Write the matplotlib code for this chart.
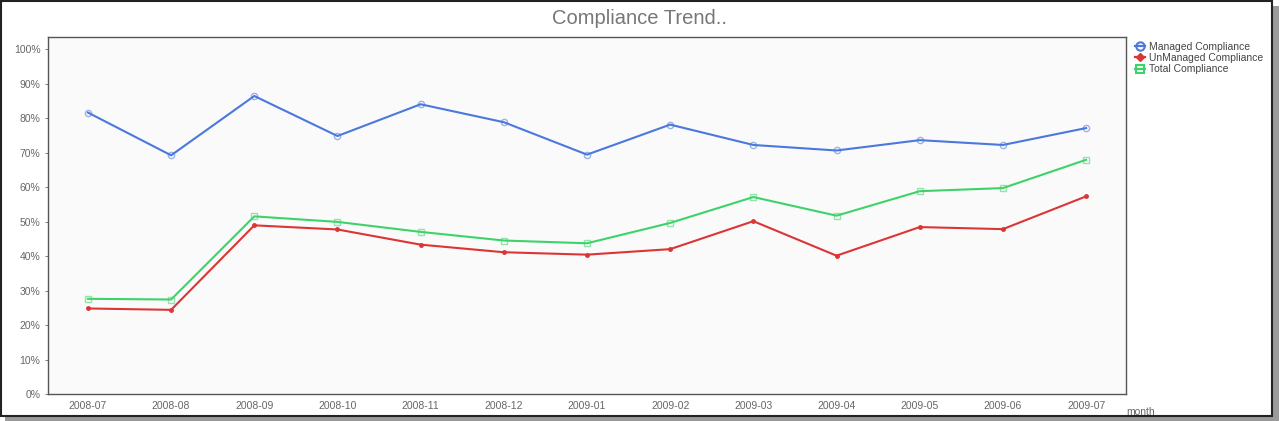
import matplotlib

matplotlib.use("Agg")
import matplotlib.pyplot as plt
from matplotlib.patches import Rectangle
from matplotlib.lines import Line2D
from matplotlib.ticker import FuncFormatter, MultipleLocator

months = ["2008-07", "2008-08", "2008-09", "2008-10", "2008-11", "2008-12", "2009-01",
          "2009-02", "2009-03", "2009-04", "2009-05", "2009-06", "2009-07"]
managed = [81.6, 69.2, 86.4, 74.8, 84.0, 78.8, 69.4, 78.1, 72.2, 70.6, 73.6, 72.2, 77.1]
unmanaged = [24.8, 24.4, 48.9, 47.7, 43.3, 41.1, 40.4, 42.0, 50.1, 40.1, 48.4, 47.8, 57.3]
total = [27.6, 27.4, 51.5, 49.9, 47.0, 44.5, 43.7, 49.6, 57.1, 51.7, 58.8, 59.7, 67.9]

series = [
    ("Managed Compliance", managed, "#4a78dc", "o"),
    ("UnManaged Compliance", unmanaged, "#dc3535", "D"),
    ("Total Compliance", total, "#3ed36a", "s"),
]

plt.rcParams["font.family"] = ["Liberation Sans", "DejaVu Sans"]

fig = plt.figure(figsize=(12.8, 4.21), dpi=100)

# outer frame with drop shadow (kept behind the axes)
fig.patches.append(Rectangle((0.004, 0.0), 0.995, 0.985, transform=fig.transFigure,
                             facecolor="#9a9a9a", edgecolor="none", zorder=-3))
fig.patches.append(Rectangle((0.001, 0.012), 0.993, 0.985, transform=fig.transFigure,
                             facecolor="white", edgecolor="#222222", linewidth=1.5, zorder=-2))

ax = fig.add_axes([0.0375, 0.0641, 0.8422, 0.848])
ax.set_facecolor("#fafafa")
x = list(range(len(months)))
for name, vals, color, mk in series:
    ax.plot(x, vals, color=color, linewidth=1.5, zorder=3)
    if mk == "D":
        ax.plot(x, vals, linestyle="none", marker="o", markersize=2.5,
                color=color, zorder=4)
    else:
        ax.plot(x, vals, linestyle="none", marker=mk, markersize=4.5,
                markerfacecolor="none", markeredgecolor=color, markeredgewidth=1.0,
                alpha=0.55, zorder=4)

ax.set_xlim(-0.48, 12.48)
ax.set_ylim(0, 103.5)
ax.set_xticks(x)
ax.set_xticklabels(months)
ax.yaxis.set_major_locator(MultipleLocator(10))
ax.yaxis.set_major_formatter(FuncFormatter(lambda v, p: f"{v:.0f}%"))
ax.tick_params(axis="both", labelsize=7.5, colors="#666666", length=2, width=0.6)
ax.tick_params(axis="x", length=0, pad=5)
for side in ax.spines.values():
    side.set_color("#555555")
    side.set_linewidth(1.0)

fig.text(0.5, 0.955, "Compliance Trend..", ha="center", va="center",
         fontsize=14.5, color="#777777")
fig.text(0.891, 0.022, "month", ha="center", va="center", fontsize=7.5, color="#666666")

handles = [
    Line2D([], [], color="#4a78dc", marker="o", markersize=6, markerfacecolor="none",
           markeredgewidth=1.5, linewidth=1.6),
    Line2D([], [], color="#dc3535", marker="D", markersize=4, linewidth=1.6),
    Line2D([], [], color="#3ed36a", marker="s", markersize=6, markerfacecolor="none",
           markeredgewidth=1.5, linewidth=1.6),
]
fig.legend(handles, [s[0] for s in series], loc="upper left",
           bbox_to_anchor=(0.885, 0.905), frameon=False, fontsize=7.5,
           handlelength=1.0, handletextpad=0.35, labelspacing=0.1,
           labelcolor="#444444", borderaxespad=0, borderpad=0.2)

fig.savefig("out.png", dpi=100)
plt.close(fig)
